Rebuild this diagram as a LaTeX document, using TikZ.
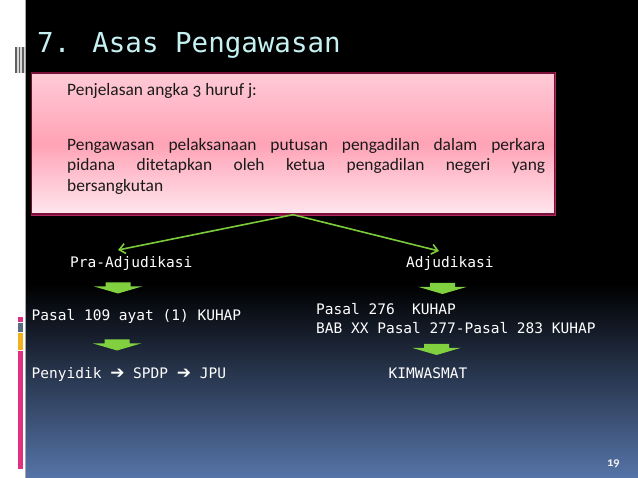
\documentclass[tikz,border=0pt]{standalone}
\usepackage{fontspec}
\setmainfont[Numbers=OldStyle]{Carlito}
\newfontfamily\monof{DejaVu Sans Mono}
\newfontfamily\symf{DejaVu Sans}
\usetikzlibrary{arrows.meta}
\definecolor{titlecyan}{HTML}{C6F1F3}
\definecolor{leafgreen}{HTML}{7CCB3A}
\definecolor{blockgreen}{HTML}{80D040}
\definecolor{boxborder}{HTML}{7A0F3A}
\definecolor{boxglow}{HTML}{B02860}
\definecolor{pinktop}{HTML}{FFCAD6}
\definecolor{pinkmid}{HTML}{FFA3B6}
\definecolor{pinkbot}{HTML}{FFE6EE}
\definecolor{bgblue}{HTML}{5674A8}
\definecolor{barpink}{HTML}{E0307F}
\definecolor{bargray}{HTML}{5B6B80}
\definecolor{barorange}{HTML}{F2B21E}
\definecolor{boxtextcol}{HTML}{1A1A1A}
\begin{document}
\begin{tikzpicture}[x=1pt,y=-1pt,
  monotext/.style={font=\monof\fontsize{14.5}{17.4}\selectfont, text=white, inner sep=0pt, anchor=base west},
  boxtext/.style={font=\fontsize{17.4}{21}\selectfont, text=boxtextcol, inner sep=0pt, anchor=base west},
  connector/.style={draw=leafgreen, line width=1.6pt, -{Straight Barb[length=6pt,width=10pt]}},
  downarrow/.pic={\fill[blockgreen] (-12.5,0) -- (12.5,0) -- (12.5,3.8) -- (24.5,3.8) -- (0,11) -- (-24.5,3.8) -- (-12.5,3.8) -- cycle;}
]
\useasboundingbox (0,0) rectangle (638,478);
% background
\fill[white] (0,0) rectangle (25,478);
\fill[black] (25,0) rectangle (638,285);
\shade[top color=black, bottom color=bgblue] (25,284.5) rectangle (638,478);
\draw[gray!70, line width=0.8pt] (25.4,0) -- (25.4,478);
% left decorations
\fill[gray!30] (15,47) rectangle (25,73);
\foreach \sx in {16.3,19.5,22.7} \fill[gray!75!black] (\sx-0.9,47) rectangle (\sx+0.9,73);
\fill[barpink] (18,317) rectangle (23,322);
\fill[bargray] (18,323) rectangle (23,332.5);
\fill[barorange] (18,333.5) rectangle (23,350.5);
\fill[barpink] (18,351.5) rectangle (23,469);
% title
\node[font=\monof\fontsize{27.5}{33}\selectfont, text=titlecyan, inner sep=0pt, anchor=base west] (title) at (37,52.3) {7. Asas Pengawasan};
% pink box
\node[draw=boxglow, line width=2.4pt, minimum width=523pt, minimum height=141pt, anchor=north west, inner sep=0pt] (glow) at (31,72.5) {};
\node[draw=boxborder, line width=1.2pt, top color=pinktop, bottom color=pinkbot, middle color=pinkmid, minimum width=523pt, minimum height=141pt, anchor=north west, inner sep=0pt] (box) at (31,72.5) {};
\node[boxtext] (lead) at (67,96) {Penjelasan angka 3 huruf j:};
\node[boxtext] (para) at (67,150.7) {\parbox[t]{478pt}{\fontsize{17.4}{20.3}\selectfont Pengawasan pelaksanaan putusan pengadilan dalam perkara\linebreak pidana ditetapkan oleh ketua pengadilan negeri yang\linebreak bersangkutan}};
% connectors
\coordinate (lt) at (118,250);
\coordinate (rt) at (439,251);
\draw[connector] (box.south) -- (lt);
\draw[connector] (box.south) -- (rt);
% labels
\node[monotext] (pra) at (70,267.7) {Pra-Adjudikasi};
\node[monotext] (adj) at (406,267.7) {Adjudikasi};
\pic at (118,282.5) {downarrow};
\pic at (442.5,283) {downarrow};
\node[monotext] (p109) at (31.5,320.7) {Pasal 109 ayat (1) KUHAP};
\node[monotext] (p276) at (316,315) {Pasal 276\ \ KUHAP};
\node[monotext] (bab) at (316,334) {BAB XX Pasal 277-Pasal 283 KUHAP};
\pic at (117,339.5) {downarrow};
\pic at (436.5,344) {downarrow};
\node[monotext] (peny) at (31.5,379) {Penyidik {\symf\fontsize{17}{17}\selectfont\char"2794} SPDP {\symf\fontsize{17}{17}\selectfont\char"2794} JPU};
\node[monotext] (kim) at (388.5,379) {KIMWASMAT};
% page number
\node[font=\bfseries\fontsize{12.5}{14}\selectfont, text=gray!12, inner sep=0pt, anchor=base east] (pg) at (620,467) {19};
\end{tikzpicture}
\end{document}
